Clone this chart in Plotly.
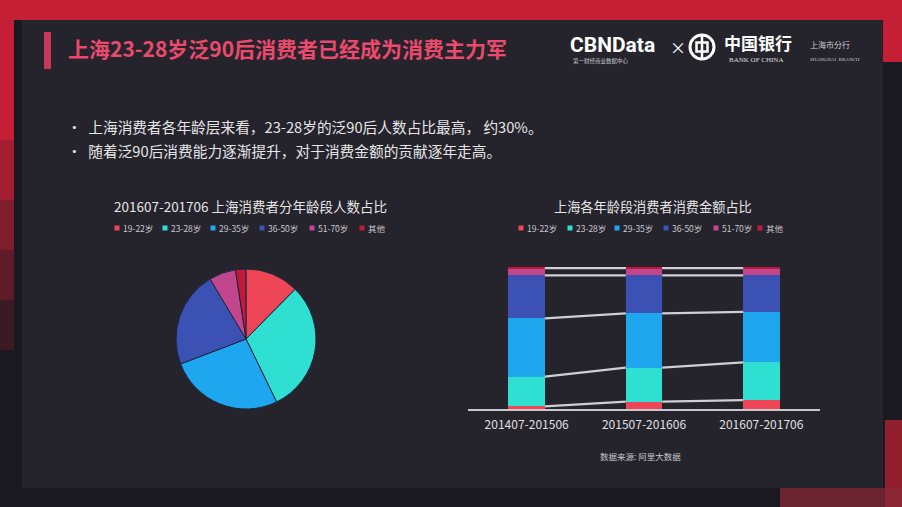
import plotly.graph_objects as go

# ---------------- data ----------------
age_groups = ["19-22岁", "23-28岁", "29-35岁", "36-50岁", "51-70岁", "其他"]
pie_share = [12.4, 30.4, 26.4, 22.2, 6.2, 2.4]

periods = ["201407-201506", "201507-201606", "201607-201706"]
amt_19_22 = [1.8, 5.2, 6.3]
amt_23_28 = [21.0, 23.9, 26.5]
amt_29_35 = [41.0, 38.2, 35.6]
amt_36_50 = [30.3, 26.8, 25.7]
amt_51_70 = [5.1, 5.1, 5.1]
amt_other = [0.8, 0.8, 0.8]

colors = ["#ef4657", "#2fe0d2", "#1ea6ee", "#3b52b4", "#c2468c", "#c0193a"]

W, H = 902, 507
FONT = "Noto Sans CJK SC"


def px(x):
    return x / W


def py(y):
    return 1 - y / H


fig = go.Figure()

# ---------------- pie ----------------
fig.add_trace(go.Pie(
    labels=age_groups, values=pie_share, sort=False, direction="clockwise",
    rotation=0, textinfo="none", hoverinfo="label+percent",
    marker=dict(colors=colors, line=dict(color="#1b2540", width=1)),
    domain=dict(x=[px(176), px(316)], y=[py(410), py(268)]),
    showlegend=False,
))

# ---------------- stacked bars ----------------
series = [amt_19_22, amt_23_28, amt_29_35, amt_36_50, amt_51_70, amt_other]
xs = list(range(len(periods)))
bw = 0.31
for name, vals, c in zip(age_groups, series, colors):
    fig.add_trace(go.Bar(
        x=xs, y=vals, name=name, marker=dict(color=c, line=dict(width=0)),
        width=bw, showlegend=False, xaxis="x", yaxis="y",
    ))

# connecting lines between bars at each cumulative boundary
cums = []
run = [0.0] * len(periods)
for vals in series:
    run = [r + v for r, v in zip(run, vals)]
    cums.append(list(run))
for k, cum in enumerate(cums):
    for i in range(len(periods) - 1):
        fig.add_trace(go.Scatter(
            x=[i + bw / 2, i + 1 - bw / 2], y=[cum[i], cum[i + 1]],
            mode="lines", line=dict(color="#cfcfd4", width=2.2),
            showlegend=False, hoverinfo="skip", xaxis="x", yaxis="y",
        ))

shapes = []
# background frame
shapes.append(dict(type="rect", xref="paper", yref="paper", x0=0, x1=1, y0=0, y1=1,
                   fillcolor="#1b1920", line=dict(width=0), layer="below"))
shapes.append(dict(type="rect", xref="paper", yref="paper", x0=0, x1=1, y0=py(20), y1=1,
                   fillcolor="#c51f35", line=dict(width=0), layer="below"))
for (y0, y1, op) in [(20, 140, 1.0), (140, 200, 0.8), (200, 250, 0.6),
                     (250, 300, 0.4), (300, 350, 0.2)]:
    shapes.append(dict(type="rect", xref="paper", yref="paper", x0=0, x1=px(14),
                       y0=py(y1), y1=py(y0), fillcolor="#c51f35", opacity=op,
                       line=dict(width=0), layer="below"))
shapes.append(dict(type="rect", xref="paper", yref="paper", x0=px(883), x1=1,
                   y0=py(62), y1=py(20), fillcolor="#c51f35", line=dict(width=0), layer="below"))
shapes.append(dict(type="rect", xref="paper", yref="paper", x0=px(885), x1=1,
                   y0=py(507), y1=py(420), fillcolor="#b0202f", opacity=0.8,
                   line=dict(width=0), layer="below"))
shapes.append(dict(type="rect", xref="paper", yref="paper", x0=px(780), x1=1,
                   y0=0, y1=py(488), fillcolor="#8a2a38", opacity=0.7,
                   line=dict(width=0), layer="below"))
# main panel
shapes.append(dict(type="rect", xref="paper", yref="paper", x0=px(22), x1=px(883),
                   y0=py(488), y1=py(20), fillcolor="#25232c", line=dict(width=0),
                   layer="below"))
# title accent bar
shapes.append(dict(type="rect", xref="paper", yref="paper", x0=px(44), x1=px(51),
                   y0=py(69), y1=py(32), fillcolor="#c8385a", line=dict(width=0),
                   layer="below"))
# Bank of China emblem
shapes.append(dict(type="circle", xref="paper", yref="paper", x0=px(690), x1=px(714),
                   y0=py(59), y1=py(35), line=dict(color="white", width=3), layer="above"))
shapes.append(dict(type="rect", xref="paper", yref="paper", x0=px(696.5), x1=px(707.5),
                   y0=py(51.5), y1=py(42.5), line=dict(color="white", width=2.5), layer="above"))
shapes.append(dict(type="line", xref="paper", yref="paper", x0=px(702), x1=px(702),
                   y0=py(59), y1=py(35), line=dict(color="white", width=2.5), layer="above"))

# manual legends
pie_leg_x = [117, 165, 213, 262, 312, 362]
bar_leg_x = [521, 570, 617, 666, 716, 760]
annotations = []
for xs_leg in (pie_leg_x, bar_leg_x):
    for lx, name, c in zip(xs_leg, age_groups, colors):
        shapes.append(dict(type="rect", xref="paper", yref="paper", x0=px(lx - 2.5),
                           x1=px(lx + 2.5), y0=py(230.5), y1=py(225.5), fillcolor=c,
                           line=dict(width=0)))
        annotations.append(dict(x=px(lx + 4), y=py(228), xref="paper", yref="paper",
                                text=name, showarrow=False, xanchor="left",
                                yanchor="middle",
                                font=dict(size=8.5, color="#c8c8cc", family=FONT)))


def txt(x, y, t, size, color="#e6e6e6", anchor="left", family=FONT, bold=False):
    if bold:
        t = "<b>" + t + "</b>"
    annotations.append(dict(x=px(x), y=py(y), xref="paper", yref="paper", text=t,
                            showarrow=False, xanchor=anchor, yanchor="middle",
                            font=dict(size=size, color=color, family=family)))


txt(66, 48, "上海23-28岁泛90后消费者已经成为消费主力军", 21, "#ea4a6c", bold=True)
txt(568, 45, "CBNData", 21, "white", family="Roboto", bold=True)
txt(571, 61, "第一财经商业数据中心", 5.5, "#cccccc")
txt(668, 47, "×", 16, "white")
txt(722, 43, "中国银行", 17, "white", bold=True)
txt(727, 60, "BANK OF CHINA", 7, "#dddddd", family="Liberation Serif")
txt(808, 44, "上海市分行", 8, "#cccccc")
txt(808, 59, "SHANGHAI  BRANCH", 5, "#cccccc", family="Liberation Serif")

txt(65, 127, "•  上海消费者各年龄层来看，23-28岁的泛90后人数占比最高， 约30%。", 14.7)
txt(65, 151, "•  随着泛90后消费能力逐渐提升，对于消费金额的贡献逐年走高。", 14.7)

txt(250, 206, "201607-201706 上海消费者分年龄段人数占比", 13.5, "#e6e6e6", anchor="center")
txt(653, 206, "上海各年龄段消费者消费金额占比", 13.2, "#e6e6e6", anchor="center")
txt(640, 456, "数据来源: 阿里大数据", 8.5, "#c8c8cc", anchor="center")

fig.update_layout(
    width=W, height=H, margin=dict(l=0, r=0, t=0, b=0),
    paper_bgcolor="#1b1920", plot_bgcolor="rgba(0,0,0,0)",
    barmode="stack", bargap=0,
    shapes=shapes, annotations=annotations,
    xaxis=dict(domain=[px(468), px(820)], range=[-0.5, 2.5], tickvals=xs,
               ticktext=periods, showgrid=False, zeroline=False, showline=True,
               linecolor="#c8c8cc", linewidth=2, ticks="", fixedrange=True,
               ticklabelstandoff=4,
               tickfont=dict(size=12, color="#e0e0e0", family=FONT)),
    yaxis=dict(domain=[py(409), py(267)], range=[0, 100], visible=False,
               showgrid=False, zeroline=False, fixedrange=True),
    font=dict(family=FONT),
)

fig.write_html(
    "out.html",
    config={"displayModeBar": False},
    post_script="document.body.style.margin='0';document.body.style.overflow='hidden';",
)
